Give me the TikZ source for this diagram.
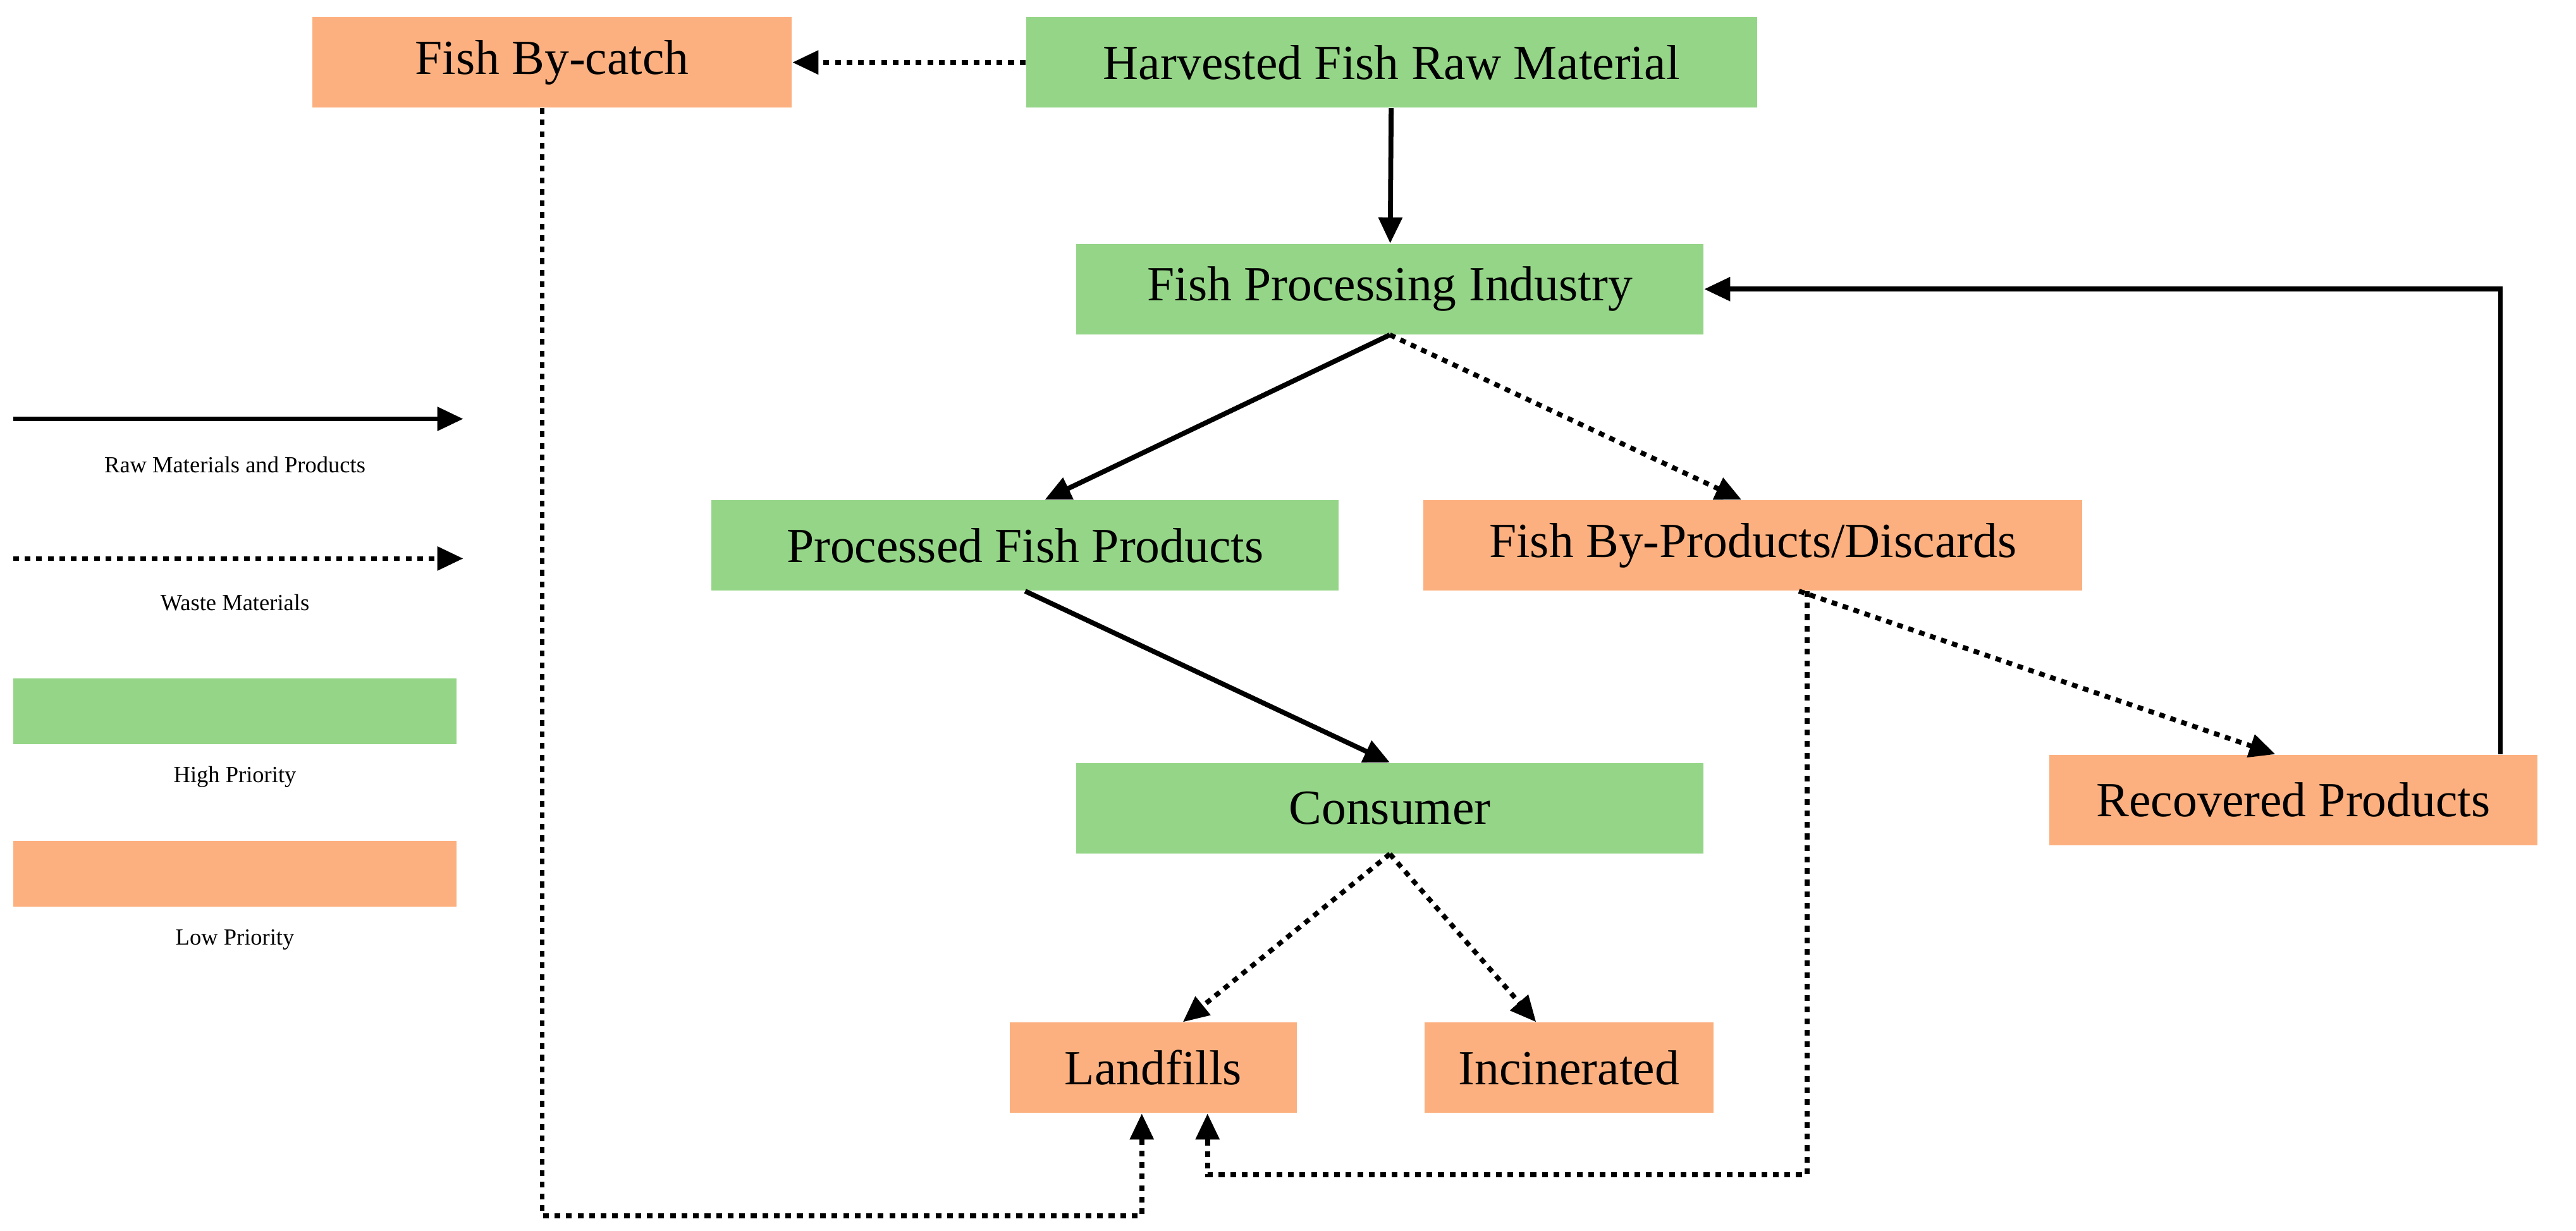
\documentclass[tikz,border=0pt]{standalone}
\usepackage{fontspec}
\setmainfont{Liberation Serif}
\usetikzlibrary{arrows.meta, positioning}
\definecolor{hi}{HTML}{95D587}
\definecolor{lo}{HTML}{FDB07F}
\begin{document}
\begin{tikzpicture}[x=0.02cm, y=-0.02cm,
	box/.style = {minimum height=1.1cm, inner sep=0pt, font=\fontsize{17}{20}\selectfont},
	high/.style = {box, fill=hi},
	low/.style = {box, fill=lo},
	flow/.style = {line width=1.7pt, -{Triangle[length=9pt, width=8pt]}},
	waste/.style = {flow, dash pattern=on 2pt off 2pt},
	legend/.style = {font=\fontsize{8}{10}\selectfont}]
		\useasboundingbox (0,0) rectangle (1568,749);

		\node [low, minimum width=5.84cm] (bycatch) at (336,38) {Fish By-catch};
		\node [high, minimum width=8.9cm] (harvest) at (847,38) {Harvested Fish Raw Material};
		\node [high, minimum width=7.64cm] (industry) at (846,176) {Fish Processing Industry};
		\node [high, minimum width=7.64cm] (processed) at (624,332) {Processed Fish Products};
		\node [low, minimum width=8.02cm] (byprod) at (1067,332) {Fish By-Products/Discards};
		\node [low, minimum width=5.94cm] (recovered) at (1396,487) {Recovered Products};
		\node [high, minimum width=7.64cm] (consumer) at (846,492) {Consumer};
		\node [low, minimum width=3.5cm] (landfill) at (702,650) {Landfills};
		\node [low, minimum width=3.52cm] (incin) at (955,650) {Incinerated};

		% legend
		\coordinate (l1a) at (8,255); \coordinate (l1b) at (282,255);
		\coordinate (l2a) at (8,340); \coordinate (l2b) at (282,340);
		\draw [flow] (l1a) -- (l1b);
		\node [legend] (l1) at (143,283) {Raw Materials and Products};
		\draw [waste] (l2a) -- (l2b);
		\node [legend] (l2) at (143,367) {Waste Materials};
		\node [fill=hi, minimum width=5.4cm, minimum height=0.8cm] (lhi) at (143,433) {};
		\node [legend] (l3) at (143,473) {High Priority};
		\node [fill=lo, minimum width=5.4cm, minimum height=0.8cm] (llo) at (143,532) {};
		\node [legend] (l4) at (143,572) {Low Priority};

		% flows
		\draw [waste] (harvest) -- (bycatch);
		\draw [flow] (harvest) -- (industry);
		\draw [flow] (industry.south) -- (processed.north -| 636,0);
		\draw [waste] (industry.south) -- (byprod.north -| 1060,0);
		\draw [flow] (processed.south) -- (consumer.north);
		\draw [waste] (byprod.south -| 1095,0) -- (recovered.north -| 1385,0);
		\draw [flow] (recovered.north -| 1522,0) |- (industry.east);
		\draw [waste] (consumer.south) -- (landfill.north -| 720,0);
		\draw [waste] (consumer.south) -- (incin.north -| 935,0);
		\draw [waste] (bycatch.south -| 330,0) -- (330,740) -| (landfill.south -| 695,0);
		\draw [waste] (byprod.south -| 1100,0) -- (1100,715) -| (landfill.south -| 735,0);
\end{tikzpicture}
\end{document}
